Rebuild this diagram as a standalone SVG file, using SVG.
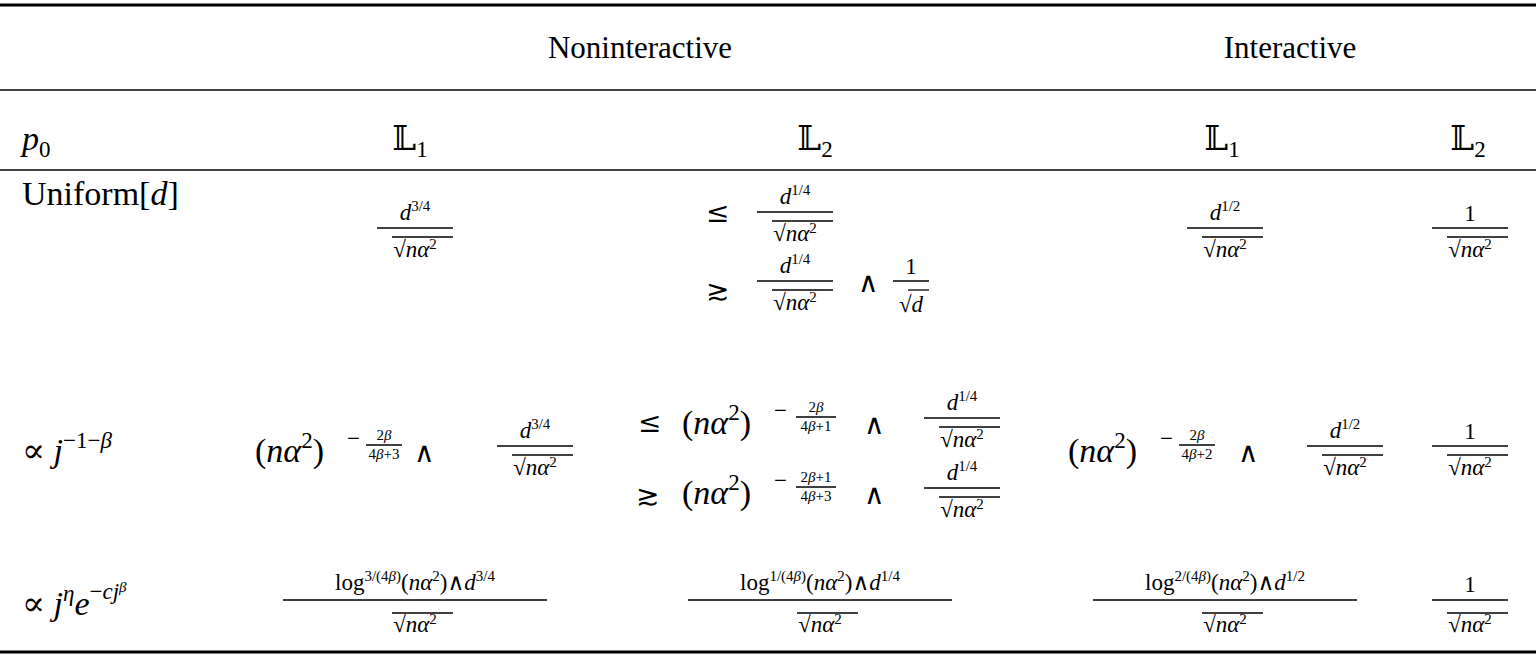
<svg xmlns="http://www.w3.org/2000/svg" width="1536" height="658" viewBox="0 0 1536 658">
<style>
text{font-family:"Liberation Serif","DejaVu Serif",serif;fill:#000}
.h{font-size:31px}
.b{font-size:34px}
.f{font-size:23px}
.s{font-size:15px}
.i{font-style:italic}
.y{font-family:"DejaVu Serif",serif;font-size:28px}
.r{stroke:#000;stroke-width:1.3}
</style>
<rect width="1536" height="658" fill="#fff"/>
<g id="rules">
<line x1="0" y1="5" x2="1536" y2="5" stroke="#000" stroke-width="3"/>
<line x1="0" y1="90" x2="1536" y2="90" stroke="#000" stroke-width="1.5"/>
<line x1="0" y1="170" x2="1536" y2="170" stroke="#000" stroke-width="1.5"/>
<line x1="0" y1="652" x2="1536" y2="652" stroke="#000" stroke-width="3"/>
</g>
<g id="header">
<text class="h" x="640" y="58" text-anchor="middle">Noninteractive</text>
<text class="h" x="1290" y="58" text-anchor="middle">Interactive</text>
<text class="b i" x="22" y="150">p<tspan class="f" font-style="normal" dy="7">0</tspan></text>
<text class="b" x="410" y="150" text-anchor="middle">𝕃<tspan class="f" dy="7">1</tspan></text>
<text class="b" x="815" y="150" text-anchor="middle">𝕃<tspan class="f" dy="7">2</tspan></text>
<text class="b" x="1222" y="150" text-anchor="middle">𝕃<tspan class="f" dy="7">1</tspan></text>
<text class="b" x="1468" y="150" text-anchor="middle">𝕃<tspan class="f" dy="7">2</tspan></text>
</g>
<g id="row-uniform">
<text class="b" x="22" y="205">Uniform[<tspan class="i">d</tspan>]</text>
<text class="f" x="415" y="220" text-anchor="middle"><tspan class="i">d</tspan><tspan class="s" dy="-9">3/4</tspan></text>
<line class="r" x1="377" y1="228" x2="453" y2="228"/>
<text class="f" x="415" y="257" text-anchor="middle">√<tspan class="i">nα</tspan><tspan class="s" dy="-8">2</tspan></text>
<line class="r" x1="392" y1="237" x2="453" y2="237"/>
<text class="y" x="706" y="222">≤</text>
<text class="f" x="795" y="204" text-anchor="middle"><tspan class="i">d</tspan><tspan class="s" dy="-9">1/4</tspan></text>
<line class="r" x1="757" y1="212" x2="833" y2="212"/>
<text class="f" x="795" y="241" text-anchor="middle">√<tspan class="i">nα</tspan><tspan class="s" dy="-8">2</tspan></text>
<line class="r" x1="772" y1="221" x2="833" y2="221"/>
<text class="y" x="706" y="300">≳</text>
<text class="f" x="795" y="273" text-anchor="middle"><tspan class="i">d</tspan><tspan class="s" dy="-9">1/4</tspan></text>
<line class="r" x1="757" y1="281" x2="833" y2="281"/>
<text class="f" x="795" y="310" text-anchor="middle">√<tspan class="i">nα</tspan><tspan class="s" dy="-8">2</tspan></text>
<line class="r" x1="772" y1="290" x2="833" y2="290"/>
<text class="y" x="858" y="292">∧</text>
<text class="f" x="911" y="274" text-anchor="middle">1</text>
<line class="r" x1="893" y1="281" x2="929" y2="281"/>
<text class="f" x="911" y="312" text-anchor="middle">√<tspan class="i">d</tspan></text>
<line class="r" x1="908" y1="290" x2="929" y2="290"/>
<text class="f" x="1225" y="220" text-anchor="middle"><tspan class="i">d</tspan><tspan class="s" dy="-9">1/2</tspan></text>
<line class="r" x1="1187" y1="228" x2="1263" y2="228"/>
<text class="f" x="1225" y="257" text-anchor="middle">√<tspan class="i">nα</tspan><tspan class="s" dy="-8">2</tspan></text>
<line class="r" x1="1202" y1="237" x2="1263" y2="237"/>
<text class="f" x="1470" y="221" text-anchor="middle">1</text>
<line class="r" x1="1432" y1="228" x2="1508" y2="228"/>
<text class="f" x="1470" y="257" text-anchor="middle">√<tspan class="i">nα</tspan><tspan class="s" dy="-8">2</tspan></text>
<line class="r" x1="1447" y1="237" x2="1508" y2="237"/>
</g>
<g id="row-power">
<text class="b" x="22" y="462">∝ <tspan class="i">j</tspan><tspan class="f" dy="-14">−1−<tspan class="i">β</tspan></tspan></text>
<text class="b" x="255" y="462">(<tspan class="i">nα</tspan><tspan class="f" dy="-14">2</tspan><tspan dy="14">)</tspan></text>
<text class="f" x="347" y="446">−</text>
<text class="s" x="384" y="440" text-anchor="middle">2<tspan class="i">β</tspan></text>
<line class="r" x1="366" y1="445" x2="402" y2="445"/>
<text class="s" x="384" y="459" text-anchor="middle">4<tspan class="i">β</tspan>+3</text>
<text class="y" x="414" y="462">∧</text>
<text class="f" x="535" y="438" text-anchor="middle"><tspan class="i">d</tspan><tspan class="s" dy="-9">3/4</tspan></text>
<line class="r" x1="497" y1="446" x2="573" y2="446"/>
<text class="f" x="535" y="475" text-anchor="middle">√<tspan class="i">nα</tspan><tspan class="s" dy="-8">2</tspan></text>
<line class="r" x1="512" y1="455" x2="573" y2="455"/>

<text class="y" x="638" y="432">≤</text>
<text class="b" x="682" y="434">(<tspan class="i">nα</tspan><tspan class="f" dy="-14">2</tspan><tspan dy="14">)</tspan></text>
<text class="f" x="774" y="418">−</text>
<text class="s" x="816" y="412" text-anchor="middle">2<tspan class="i">β</tspan></text>
<line class="r" x1="796" y1="417" x2="836" y2="417"/>
<text class="s" x="816" y="431" text-anchor="middle">4<tspan class="i">β</tspan>+1</text>
<text class="y" x="864" y="434">∧</text>
<text class="f" x="962" y="410" text-anchor="middle"><tspan class="i">d</tspan><tspan class="s" dy="-9">1/4</tspan></text>
<line class="r" x1="924" y1="418" x2="1000" y2="418"/>
<text class="f" x="962" y="447" text-anchor="middle">√<tspan class="i">nα</tspan><tspan class="s" dy="-8">2</tspan></text>
<line class="r" x1="939" y1="427" x2="1000" y2="427"/>

<text class="y" x="636" y="505">≳</text>
<text class="b" x="682" y="504">(<tspan class="i">nα</tspan><tspan class="f" dy="-14">2</tspan><tspan dy="14">)</tspan></text>
<text class="f" x="774" y="488">−</text>
<text class="s" x="816" y="482" text-anchor="middle">2<tspan class="i">β</tspan>+1</text>
<line class="r" x1="796" y1="487" x2="836" y2="487"/>
<text class="s" x="816" y="501" text-anchor="middle">4<tspan class="i">β</tspan>+3</text>
<text class="y" x="864" y="504">∧</text>
<text class="f" x="962" y="480" text-anchor="middle"><tspan class="i">d</tspan><tspan class="s" dy="-9">1/4</tspan></text>
<line class="r" x1="924" y1="488" x2="1000" y2="488"/>
<text class="f" x="962" y="517" text-anchor="middle">√<tspan class="i">nα</tspan><tspan class="s" dy="-8">2</tspan></text>
<line class="r" x1="939" y1="497" x2="1000" y2="497"/>

<text class="b" x="1068" y="462">(<tspan class="i">nα</tspan><tspan class="f" dy="-14">2</tspan><tspan dy="14">)</tspan></text>
<text class="f" x="1160" y="446">−</text>
<text class="s" x="1197" y="440" text-anchor="middle">2<tspan class="i">β</tspan></text>
<line class="r" x1="1179" y1="445" x2="1215" y2="445"/>
<text class="s" x="1197" y="459" text-anchor="middle">4<tspan class="i">β</tspan>+2</text>
<text class="y" x="1238" y="462">∧</text>
<text class="f" x="1345" y="438" text-anchor="middle"><tspan class="i">d</tspan><tspan class="s" dy="-9">1/2</tspan></text>
<line class="r" x1="1307" y1="446" x2="1383" y2="446"/>
<text class="f" x="1345" y="475" text-anchor="middle">√<tspan class="i">nα</tspan><tspan class="s" dy="-8">2</tspan></text>
<line class="r" x1="1322" y1="455" x2="1383" y2="455"/>

<text class="f" x="1470" y="439" text-anchor="middle">1</text>
<line class="r" x1="1432" y1="446" x2="1508" y2="446"/>
<text class="f" x="1470" y="475" text-anchor="middle">√<tspan class="i">nα</tspan><tspan class="s" dy="-8">2</tspan></text>
<line class="r" x1="1447" y1="455" x2="1508" y2="455"/>
</g>
<g id="row-exp">
<text class="b" x="22" y="615">∝ <tspan class="i">j</tspan><tspan class="f i" dy="-14">η</tspan><tspan class="i" dy="14">e</tspan><tspan class="f" dy="-16">−<tspan class="i">cj</tspan><tspan class="s i" dy="-7">β</tspan></tspan></text>

<text class="f" x="415" y="590" text-anchor="middle">log<tspan class="s" dy="-9">3/(4<tspan class="i">β</tspan>)</tspan><tspan dy="9">(<tspan class="i">nα</tspan></tspan><tspan class="s" dy="-9">2</tspan><tspan dy="9">)∧<tspan class="i">d</tspan></tspan><tspan class="s" dy="-9">3/4</tspan></text>
<line class="r" x1="283" y1="600" x2="547" y2="600"/>
<text class="f" x="415" y="632" text-anchor="middle">√<tspan class="i">nα</tspan><tspan class="s" dy="-8">2</tspan></text>
<line class="r" x1="392" y1="613" x2="453" y2="613"/>

<text class="f" x="820" y="590" text-anchor="middle">log<tspan class="s" dy="-9">1/(4<tspan class="i">β</tspan>)</tspan><tspan dy="9">(<tspan class="i">nα</tspan></tspan><tspan class="s" dy="-9">2</tspan><tspan dy="9">)∧<tspan class="i">d</tspan></tspan><tspan class="s" dy="-9">1/4</tspan></text>
<line class="r" x1="688" y1="600" x2="952" y2="600"/>
<text class="f" x="820" y="632" text-anchor="middle">√<tspan class="i">nα</tspan><tspan class="s" dy="-8">2</tspan></text>
<line class="r" x1="797" y1="613" x2="858" y2="613"/>

<text class="f" x="1225" y="590" text-anchor="middle">log<tspan class="s" dy="-9">2/(4<tspan class="i">β</tspan>)</tspan><tspan dy="9">(<tspan class="i">nα</tspan></tspan><tspan class="s" dy="-9">2</tspan><tspan dy="9">)∧<tspan class="i">d</tspan></tspan><tspan class="s" dy="-9">1/2</tspan></text>
<line class="r" x1="1093" y1="600" x2="1357" y2="600"/>
<text class="f" x="1225" y="632" text-anchor="middle">√<tspan class="i">nα</tspan><tspan class="s" dy="-8">2</tspan></text>
<line class="r" x1="1202" y1="613" x2="1263" y2="613"/>

<text class="f" x="1470" y="592" text-anchor="middle">1</text>
<line class="r" x1="1432" y1="600" x2="1508" y2="600"/>
<text class="f" x="1470" y="632" text-anchor="middle">√<tspan class="i">nα</tspan><tspan class="s" dy="-8">2</tspan></text>
<line class="r" x1="1447" y1="613" x2="1508" y2="613"/>
</g>
</svg>
